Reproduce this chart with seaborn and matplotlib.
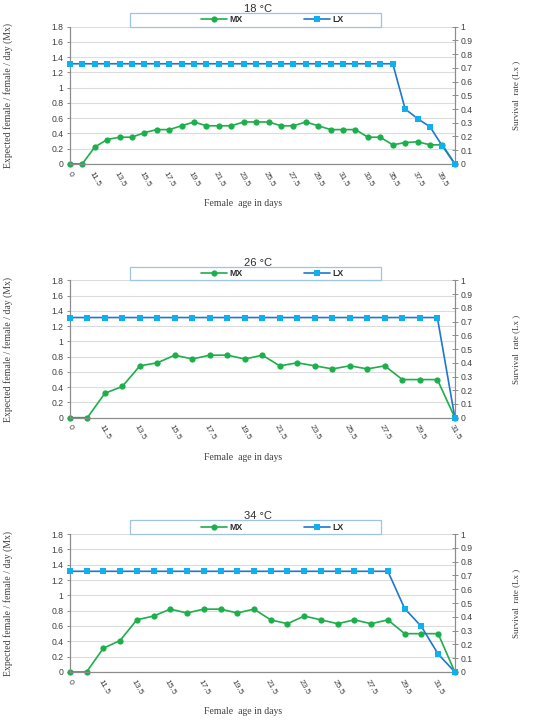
import numpy as np
import matplotlib
matplotlib.use("Agg")
import matplotlib.pyplot as plt
import seaborn as sns
from matplotlib.patches import Rectangle
from matplotlib.ticker import FuncFormatter, MultipleLocator

# ── data ─────────────────────────────────────────────────────────────────────

AGES_18 = [0, 10.5, 11.5, 12.5, 13.5, 14.5, 15.5, 16.5, 17.5, 18.5, 19.5,
           20.5, 21.5, 22.5, 23.5, 24.5, 25.5, 26.5, 27.5, 28.5, 29.5, 30.5,
           31.5, 32.5, 33.5, 34.5, 35.5, 36.5, 37.5, 38.5, 39.5, 40.5]
MX_18 = [0, 0, 0.22, 0.32, 0.35, 0.35, 0.41, 0.45, 0.45, 0.50, 0.55, 0.50,
         0.50, 0.50, 0.55, 0.55, 0.55, 0.50, 0.50, 0.55, 0.50, 0.45, 0.45,
         0.45, 0.35, 0.35, 0.25, 0.28, 0.29, 0.25, 0.25, 0]
LX_18 = [0.73, 0.73, 0.73, 0.73, 0.73, 0.73, 0.73, 0.73, 0.73, 0.73, 0.73,
         0.73, 0.73, 0.73, 0.73, 0.73, 0.73, 0.73, 0.73, 0.73, 0.73, 0.73,
         0.73, 0.73, 0.73, 0.73, 0.73, 0.40, 0.33, 0.27, 0.13, 0]

AGES_26 = [0, 10.5, 11.5, 12.5, 13.5, 14.5, 15.5, 16.5, 17.5, 18.5, 19.5,
           20.5, 21.5, 22.5, 23.5, 24.5, 25.5, 26.5, 27.5, 28.5, 29.5, 30.5,
           31.5]
MX_26 = [0, 0, 0.32, 0.41, 0.68, 0.72, 0.82, 0.77, 0.82, 0.82, 0.77, 0.82,
         0.68, 0.72, 0.68, 0.64, 0.68, 0.64, 0.68, 0.50, 0.50, 0.50, 0]
LX_26 = [0.73, 0.73, 0.73, 0.73, 0.73, 0.73, 0.73, 0.73, 0.73, 0.73, 0.73,
         0.73, 0.73, 0.73, 0.73, 0.73, 0.73, 0.73, 0.73, 0.73, 0.73, 0.73, 0]

AGES_34 = [0, 10.5, 11.5, 12.5, 13.5, 14.5, 15.5, 16.5, 17.5, 18.5, 19.5,
           20.5, 21.5, 22.5, 23.5, 24.5, 25.5, 26.5, 27.5, 28.5, 29.5, 30.5,
           31.5, 32.5]
MX_34 = [0, 0, 0.31, 0.41, 0.68, 0.73, 0.82, 0.77, 0.82, 0.82, 0.77, 0.82,
         0.68, 0.63, 0.73, 0.68, 0.63, 0.68, 0.63, 0.68, 0.50, 0.50, 0.50, 0]
LX_34 = [0.73, 0.73, 0.73, 0.73, 0.73, 0.73, 0.73, 0.73, 0.73, 0.73, 0.73,
         0.73, 0.73, 0.73, 0.73, 0.73, 0.73, 0.73, 0.73, 0.73, 0.46, 0.33,
         0.13, 0]

TITLES = ["18 °C", "26 °C", "34 °C"]

GREEN = "#1DAF4B"
BLUE_LINE = "#1F77D0"
BLUE_MARK = "#10B0EE"
AXIS_GREY = "#8C8C8C"
GRID_GREY = "#DCDCDC"

SANS = "Liberation Sans"
SERIF = "Liberation Serif"


def _fmt(v, _pos=None):
    return f"{v:g}"


def draw_panel(fig, rect, title, ages, mx, lx):
    ax = fig.add_axes(rect)
    pos = np.arange(len(ages))

    sns.lineplot(x=pos, y=mx, ax=ax, color=GREEN, marker="o", markersize=4.5,
                 markeredgewidth=0, linewidth=1.2, label="MX", legend=False,
                 clip_on=False, zorder=3)
    ax2 = ax.twinx()
    sns.lineplot(x=pos, y=lx, ax=ax2, color=BLUE_LINE, marker="s",
                 markersize=4.8, markerfacecolor=BLUE_MARK,
                 markeredgecolor=BLUE_MARK, markeredgewidth=0, linewidth=1.2,
                 label="LX", legend=False, clip_on=False, zorder=3)

    ax.set_xlim(0, len(ages) - 1)
    ax.set_ylim(0, 1.8)
    ax2.set_ylim(0, 1)
    ax.yaxis.set_major_locator(MultipleLocator(0.2))
    ax2.yaxis.set_major_locator(MultipleLocator(0.1))
    ax.yaxis.set_major_formatter(FuncFormatter(_fmt))
    ax2.yaxis.set_major_formatter(FuncFormatter(_fmt))

    ax.set_xticks(pos[::2])
    ax.set_xticks(pos[1::2], minor=True)
    ax.set_xticklabels([_fmt(a) for a in ages[::2]], rotation=-60,
                       ha="center", va="top", fontsize=6, family=SANS,
                       color="#404040")

    ax.grid(axis="y", color=GRID_GREY, linewidth=0.8)
    ax.grid(axis="x", visible=False)
    ax.set_axisbelow(True)

    for a in (ax, ax2):
        a.spines["top"].set_visible(False)
        for s in ("left", "right", "bottom"):
            a.spines[s].set_color(AXIS_GREY)
            a.spines[s].set_linewidth(0.8)
    ax.tick_params(axis="y", direction="out", length=2.5, width=0.7,
                   color=AXIS_GREY, labelsize=6.2, labelcolor="#404040", pad=2)
    ax2.tick_params(axis="y", direction="inout", length=4, width=0.7,
                    color=AXIS_GREY, labelsize=6.2, labelcolor="#404040", pad=2)
    ax.tick_params(axis="x", which="both", direction="out", length=2.5,
                   width=0.7, color=AXIS_GREY, pad=2)
    for lab in ax.get_yticklabels() + ax2.get_yticklabels():
        lab.set_family(SANS)

    ax.set_ylabel("Expected female / female / day (Mx)", family=SERIF,
                  fontsize=7, color="#404040")
    ax.yaxis.set_label_coords(-0.148, 0.5)
    ax2.set_ylabel("Survival  rate (Lx )", family=SERIF, fontsize=6.5,
                   color="#404040")
    ax2.yaxis.set_label_coords(1.148, 0.5)
    ax.set_xlabel("Female  age in days", family=SERIF, fontsize=7,
                  color="#404040")
    ax.xaxis.set_label_coords(0.449, -0.29)
    ax.xaxis.label.set_va("center")

    # legend box above the plot, with the title sitting on its top edge
    ax2.add_patch(Rectangle((0.156, 1.0), 0.652, 0.10, transform=ax2.transAxes,
                            facecolor="white", edgecolor="#9DC3E6",
                            linewidth=0.9, clip_on=False, zorder=1))
    handles = [ax.lines[0], ax2.lines[0]]
    leg = ax2.legend(handles, ["MX", "LX"], loc="center", ncol=2,
                     bbox_to_anchor=(0.526, 1.05), frameon=False,
                     handlelength=3.0, handletextpad=0.3, columnspacing=7.0,
                     prop={"family": SANS, "size": 6.3, "weight": "bold"})
    for t in leg.get_texts():
        t.set_color("#303030")
    ax2.text(0.488, 1.13, title, transform=ax2.transAxes, ha="center",
             va="center", fontsize=8, family=SANS, color="#303030",
             zorder=5)
    return ax, ax2


sns.set_style("white")
fig = plt.figure(figsize=(5.5, 7.22), dpi=100)

rects = [
    (0.127, 0.773, 0.700, 0.190),
    (0.127, 0.4215, 0.700, 0.190),
    (0.127, 0.0693, 0.700, 0.191),
]
panels = [(AGES_18, MX_18, LX_18), (AGES_26, MX_26, LX_26),
          (AGES_34, MX_34, LX_34)]

for rect, title, (ages, mx, lx) in zip(rects, TITLES, panels):
    draw_panel(fig, rect, title, ages, mx, lx)

fig.savefig("out.png", dpi=100)
